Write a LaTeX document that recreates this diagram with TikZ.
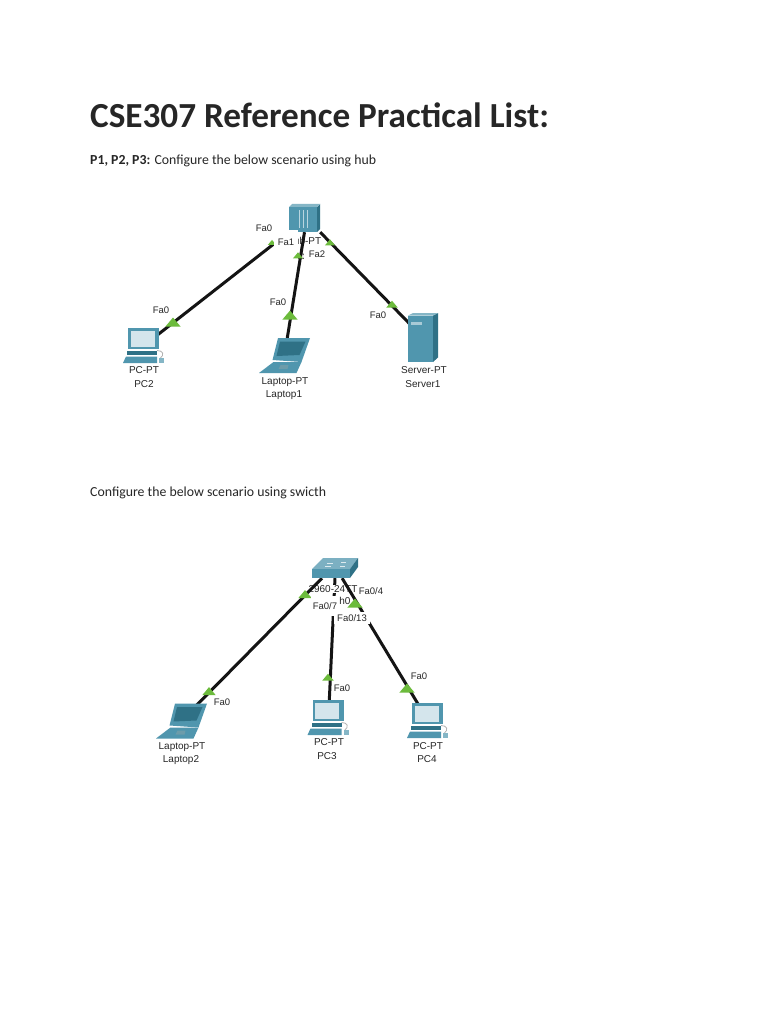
\documentclass[tikz,border=0pt]{standalone}
\usepackage{fontspec}
\setmainfont{Carlito}
\newfontfamily\labelfont{Liberation Sans}
\usepackage{xcolor}
\usetikzlibrary{shapes.geometric}
\definecolor{icon}{HTML}{5096AE}
\definecolor{icondark}{HTML}{2F7186}
\definecolor{iconlight}{HTML}{D4E5EC}
\definecolor{port}{HTML}{6CBB3C}
\definecolor{ink}{HTML}{262626}
\tikzset{
  devicebox/.style={inner sep=0pt, minimum width=#1},
  link/.style={line width=3pt, black!92},
  porttri/.style={isosceles triangle, isosceles triangle apex angle=80, shape border rotate=90, fill=port, inner sep=0pt, minimum height=#1, minimum width=1.6*#1},
  portlabel/.style={font=\labelfont\fontsize{9.5}{10}\selectfont, text=ink, fill=white, inner sep=0.6pt},
  devicelabel/.style={font=\labelfont\fontsize{10}{11}\selectfont, text=ink, inner sep=0pt},
  pagetext/.style={anchor=base west, inner sep=0pt, text=ink},
  pcicon/.pic={
    \fill[icon] (-16,17.5) -- (15,17.5) -- (15,-3.5) -- (-16,-3.5) -- cycle;
    \fill[iconlight] (-13.5,15) -- (10.5,15) -- (10.5,-1) -- (-13.5,-1) -- cycle;
    \fill[icondark] (-17,-5) -- (13,-5) -- (13,-9) -- (-17,-9) -- cycle;
    \fill[icon] (-18,-11) -- (13,-11) -- (13,-17.5) -- (-21,-17.5) -- cycle;
    \draw[gray!60, line width=0.8pt] (13,-5) .. controls (19,-5) and (21,-9) .. (16,-13);
    \fill[icon!70] (15,-12) rectangle (20,-17);
  },
  laptopicon/.pic={
    \fill[icon] (-6.5,17) -- (25.5,17) -- (17,-7) -- (-12,-5) -- cycle;
    \fill[icondark] (-4.5,13.5) -- (21,13.5) -- (15,0) -- (-8,-1) -- cycle;
    \fill[icon] (-11,-7) -- (17,-7) -- (12,-18) -- (-25.5,-18) -- cycle;
    \fill[icondark!70] (-4,-10) -- (4,-10) -- (3,-14) -- (-6,-14) -- cycle;
  },
  servericon/.pic={
    \fill[icon] (-15,22) rectangle (10,-24.5);
    \fill[icondark] (10,22) -- (15,24.5) -- (15,-20) -- (10,-24.5) -- cycle;
    \fill[icon!70] (-15,22) -- (10,22) -- (15,24.5) -- (-10,24.5) -- cycle;
    \fill[icon!50] (-12,16) rectangle (-1,13);
  },
  hubicon/.pic={
    \fill[icon] (-15.5,11) rectangle (12.5,-14);
    \fill[icondark] (12.5,11) -- (15.5,14) -- (15.5,-11) -- (12.5,-14) -- cycle;
    \fill[icon!70] (-15.5,11) -- (12.5,11) -- (15.5,14) -- (-12.5,14) -- cycle;
    \draw[icon!40, line width=0.7pt] (-5,8) -- (-5,-10) (-1,8) -- (-1,-10) (3,8) -- (3,-10);
  },
  switchicon/.pic={
    \fill[icon!75] (-23,-1) -- (15,-1) -- (23,10) -- (-12,10) -- cycle;
    \fill[icon] (-23,-1) rectangle (15,-10);
    \fill[icondark] (15,-1) -- (23,10) -- (23,1) -- (15,-10) -- cycle;
    \draw[white!80!icon, line width=0.7pt] (-8,5) -- (-2,5) (6,6) -- (11,6) (-10,2) -- (-4,2) (5,2) -- (10,2);
  }
}
\begin{document}
\begin{tikzpicture}[x=1pt,y=1pt]
\useasboundingbox (0,0) rectangle (768,-1024);
\fill[white] (0,0) rectangle (768,-1024);

\node[pagetext, font=\fontsize{35.2}{38}\selectfont\bfseries] (title) at (90,-128) {CSE307 Reference Practical List:};
\node[pagetext, font=\fontsize{13.8}{16}\selectfont] (hubtext) at (90,-165) {\textbf{P1, P2, P3:} Configure the below scenario using hub};
\node[pagetext, font=\fontsize{13.8}{16}\selectfont] (switchtext) at (90,-496) {Configure the below scenario using swicth};

\node[devicebox=31, minimum height=28] (hub) at (304.5,-218) {};
\node[devicebox=42, minimum height=35] (pctwo) at (144,-345.5) {};
\node[devicebox=51, minimum height=36] (laptopone) at (284.5,-355) {};
\node[devicebox=30, minimum height=49] (serverone) at (423,-337.5) {};
\node[devicebox=46, minimum height=20] (switchzero) at (335,-568) {};
\node[devicebox=51, minimum height=35] (laptoptwo) at (181.5,-720.5) {};
\node[devicebox=43, minimum height=35] (pcthree) at (328.5,-717.5) {};
\node[devicebox=40, minimum height=35] (pcfour) at (428,-720.5) {};

\node[devicelabel] (hubmodel) at (304,-241) {Hub-PT};
\node[devicelabel] (hubname) at (299,-256) {Hub0};

\draw[link] (pctwo.center) -- (hub.south west);
\draw[link] (laptopone.center) -- (hub.south);
\draw[link] (serverone.center) -- (hub.south east);
\draw[link] (pcthree.center) -- (switchzero.south);

\node[devicelabel, fill=white] (switchmodel) at (333,-589) {2960-24TT};
\node[devicelabel] (switchname) at (333,-601) {Switch0};

\draw[link] (laptoptwo.center) -- (switchzero.218);
\draw[link] (pcfour.center) -- (switchzero.305);

\node[porttri=9] (tria) at (173,-323) {};
\node[porttri=5, shape border rotate=60] (trib) at (272,-243) {};
\node[porttri=9] (tric) at (290,-316) {};
\node[porttri=7, shape border rotate=120] (trie) at (392,-305) {};
\node[porttri=6, shape border rotate=120] (trif) at (330,-243) {};
\node[porttri=8, shape border rotate=70] (trig) at (209,-692) {};
\node[porttri=8, shape border rotate=70] (trih) at (305,-595) {};
\node[porttri=7] (trii) at (328,-678) {};
\node[porttri=9] (trij) at (407,-689) {};

\pic at (pctwo) {pcicon};
\pic at (laptopone) {laptopicon};
\pic at (serverone) {servericon};
\pic at (hub) {hubicon};
\pic at (switchzero) {switchicon};
\pic at (laptoptwo) {laptopicon};
\pic at (pcthree) {pcicon};
\pic at (pcfour) {pcicon};

\node[portlabel] (fa) at (264,-228) {Fa0};
\node[portlabel, anchor=base, minimum width=24, text height=14.5, text depth=17] (fb) at (286,-245.5) {Fa1};
\node[portlabel, minimum width=26, minimum height=14] (fc) at (317,-254) {Fa2};
\node[portlabel] (fd) at (161,-310) {Fa0};
\node[portlabel] (fe) at (278,-302) {Fa0};
\node[portlabel] (ff) at (378,-315) {Fa0};
\node[portlabel, minimum width=28, minimum height=20] (fg) at (325,-606) {Fa0/7};
\node[portlabel] (fh) at (371,-591) {Fa0/4};
\node[portlabel, inner sep=3pt] (fi) at (352,-618) {Fa0/13};
\node[portlabel] (fj) at (222,-702) {Fa0};
\node[portlabel] (fk) at (342,-688) {Fa0};
\node[portlabel] (fl) at (419,-676) {Fa0};

\node[porttri=6] (trid) at (298,-256) {};
\node[porttri=9] (trik) at (355,-604) {};

\node[devicelabel] (pctwomodel) at (144,-370) {PC-PT};
\node[devicelabel] (pctwoname) at (144,-384) {PC2};
\node[devicelabel] (laptoponemodel) at (285,-382) {Laptop-PT};
\node[devicelabel] (laptoponename) at (284,-395) {Laptop1};
\node[devicelabel] (serveronemodel) at (424,-370) {Server-PT};
\node[devicelabel] (serveronename) at (423,-384) {Server1};
\node[devicelabel] (laptoptwomodel) at (182,-747) {Laptop-PT};
\node[devicelabel] (laptoptwoname) at (181,-760) {Laptop2};
\node[devicelabel] (pcthreemodel) at (329,-742) {PC-PT};
\node[devicelabel] (pcthreename) at (327,-756) {PC3};
\node[devicelabel] (pcfourmodel) at (428,-746) {PC-PT};
\node[devicelabel] (pcfourname) at (427,-759) {PC4};
\end{tikzpicture}
\end{document}
